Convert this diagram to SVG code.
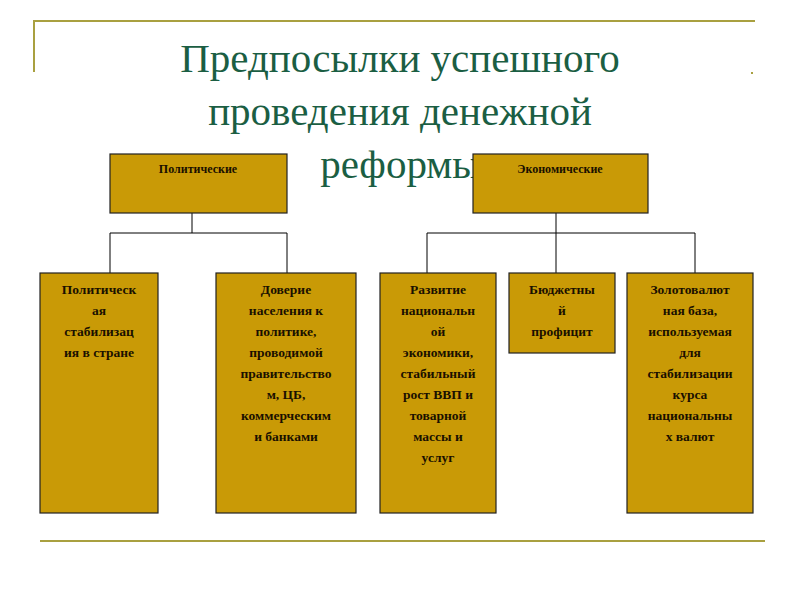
<svg xmlns="http://www.w3.org/2000/svg" width="800" height="600" viewBox="0 0 800 600">
<style>
.title{font-family:"Liberation Serif",serif;font-size:41px;fill:#1b5e43;text-anchor:middle}
.box{fill:#c99a06;stroke:#222;stroke-width:1.2}
.t{font-family:"Liberation Serif",serif;font-size:13.5px;font-weight:bold;fill:#1a1000;text-anchor:middle}
.h{font-family:"Liberation Serif",serif;font-size:12px;font-weight:bold;fill:#1a1000;text-anchor:middle}
.c{stroke:#000;stroke-width:1;fill:none}
.deco{stroke:#a9a040;stroke-width:2;fill:none}
</style>
<rect width="800" height="600" fill="#fff"/>
<path class="deco" d="M34 72V21H755"/>
<path class="deco" d="M40 541H765"/>
<rect x="751" y="72" width="2" height="2" fill="#a9a040"/>
<text class="title" x="400" y="72">Предпосылки успешного</text>
<text class="title" x="400" y="125">проведения денежной</text>
<text class="title" x="400" y="178">реформы</text>
<g id="connectors">
<path class="c" d="M192 213V233M110 233H287M110 233V273M287 233V273"/>
<path class="c" d="M556 213V233M427 233H695M427 233V273M556 233V273M695 233V273"/>
</g>
<g id="n-pol"><rect class="box" x="110" y="154" width="177" height="59"/><text class="h" x="198" y="173">Политические</text></g>
<g id="n-eco"><rect class="box" x="473" y="154" width="175" height="59"/><text class="h" x="560" y="173">Экономические</text></g>
<g id="n1"><rect class="box" x="40" y="273" width="118" height="240"/>
<text class="t" x="99" y="294">Политическ<tspan x="99" dy="21">ая</tspan><tspan x="99" dy="21">стабилизац</tspan><tspan x="99" dy="21">ия в стране</tspan></text></g>
<g id="n2"><rect class="box" x="216" y="273" width="140" height="240"/>
<text class="t" x="286" y="294">Доверие<tspan x="286" dy="21">населения к</tspan><tspan x="286" dy="21">политике,</tspan><tspan x="286" dy="21">проводимой</tspan><tspan x="286" dy="21">правительство</tspan><tspan x="286" dy="21">м, ЦБ,</tspan><tspan x="286" dy="21">коммерческим</tspan><tspan x="286" dy="21">и банками</tspan></text></g>
<g id="n3"><rect class="box" x="380" y="273" width="116" height="240"/>
<text class="t" x="438" y="294">Развитие<tspan x="438" dy="21">национальн</tspan><tspan x="438" dy="21">ой</tspan><tspan x="438" dy="21">экономики,</tspan><tspan x="438" dy="21">стабильный</tspan><tspan x="438" dy="21">рост ВВП и</tspan><tspan x="438" dy="21">товарной</tspan><tspan x="438" dy="21">массы и</tspan><tspan x="438" dy="21">услуг</tspan></text></g>
<g id="n4"><rect class="box" x="509" y="273" width="106" height="80"/>
<text class="t" x="562" y="294">Бюджетны<tspan x="562" dy="21">й</tspan><tspan x="562" dy="21">профицит</tspan></text></g>
<g id="n5"><rect class="box" x="627" y="273" width="126" height="240"/>
<text class="t" x="690" y="294">Золотовалют<tspan x="690" dy="21">ная база,</tspan><tspan x="690" dy="21">используемая</tspan><tspan x="690" dy="21">для</tspan><tspan x="690" dy="21">стабилизации</tspan><tspan x="690" dy="21">курса</tspan><tspan x="690" dy="21">национальны</tspan><tspan x="690" dy="21">х валют</tspan></text></g>
</svg>
